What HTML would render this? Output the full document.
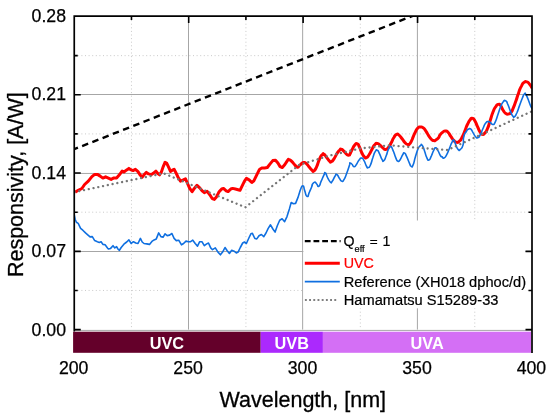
<!DOCTYPE html>
<html><head><meta charset="utf-8"><title>Responsivity</title>
<style>
html,body{margin:0;padding:0;background:#fff;}
body{width:550px;height:416px;overflow:hidden;}
svg{display:block;font-family:"Liberation Sans",sans-serif;}
</style></head><body>
<svg width="550" height="416" viewBox="0 0 550 416">
<rect width="550" height="416" fill="#fff"/>
<g stroke="#a6a6a6" stroke-width="1.0" fill="none"><line x1="188.50" y1="16.5" x2="188.50" y2="329.6"/><line x1="302.65" y1="16.5" x2="302.65" y2="329.6"/><line x1="417.40" y1="16.5" x2="417.40" y2="329.6"/><line x1="74.2" y1="251.50" x2="532.0" y2="251.50"/><line x1="74.2" y1="173.45" x2="532.0" y2="173.45"/><line x1="74.2" y1="94.50" x2="532.0" y2="94.50"/><line x1="74.2" y1="330.40" x2="532.0" y2="330.40"/></g>
<g stroke="#c4c4c4" stroke-width="0.9" stroke-dasharray="1 2.6" fill="none"><line x1="131.47" y1="16.5" x2="131.47" y2="329.6"/><line x1="245.91" y1="16.5" x2="245.91" y2="329.6"/><line x1="360.34" y1="16.5" x2="360.34" y2="329.6"/><line x1="474.78" y1="16.5" x2="474.78" y2="329.6"/><line x1="74.2" y1="290.46" x2="532.0" y2="290.46"/><line x1="74.2" y1="212.19" x2="532.0" y2="212.19"/><line x1="74.2" y1="133.91" x2="532.0" y2="133.91"/><line x1="74.2" y1="55.64" x2="532.0" y2="55.64"/></g>
<clipPath id="c"><rect x="74.2" y="16.5" width="457.8" height="313.1"/></clipPath>
<g clip-path="url(#c)" fill="none" stroke-linejoin="round" stroke-linecap="butt">
<path d="M74.2,149.2 L440.4,4.9" stroke="#000" stroke-width="2.4" stroke-dasharray="6.5 4.5" stroke-dashoffset="2.5"/>
<path d="M75.1,192.2 L78.2,190.3 L81.9,188.5 L84.6,184.5 L88.3,181.2 L91.9,176.6 L94.7,174.4 L97.4,174.4 L100.2,176.1 L102.9,178.1 L105.6,176.8 L108.4,178.1 L111.1,179.4 L113.9,177.9 L116.6,177.9 L119.4,174.8 L122.1,171.1 L123.9,172.0 L126.7,169.9 L128.9,168.4 L131.2,169.9 L133.1,170.6 L135.4,169.3 L138.0,171.7 L140.4,175.3 L142.2,177.2 L144.0,174.8 L146.4,172.4 L148.6,173.9 L151.4,174.6 L153.2,173.3 L155.9,171.1 L157.8,173.5 L159.6,174.8 L161.4,172.0 L163.2,166.6 L165.1,162.4 L165.0,162.3 L166.8,163.4 L168.7,167.4 L170.5,171.4 L172.3,170.2 L174.1,169.3 L176.0,172.9 L178.2,177.5 L180.5,181.1 L183.3,179.9 L185.5,178.8 L187.3,183.0 L189.7,188.4 L192.1,191.7 L194.3,188.4 L197.0,185.3 L199.7,187.9 L202.5,191.2 L204.3,192.7 L207.0,191.2 L209.8,194.8 L212.2,198.5 L214.4,199.4 L216.6,196.7 L218.9,192.1 L221.7,189.0 L223.5,188.4 L226.2,190.8 L228.1,191.6 L230.8,189.0 L232.6,188.4 L235.4,189.0 L238.1,189.7 L240.0,190.3 L241.8,186.6 L244.5,181.1 L246.4,178.4 L249.1,179.9 L251.8,182.4 L253.7,181.1 L256.4,175.6 L259.1,170.2 L260.0,169.0 L262.2,167.9 L264.6,167.9 L267.3,167.5 L270.1,163.9 L272.8,160.6 L275.5,160.2 L277.9,163.0 L280.1,166.6 L282.3,167.5 L284.7,164.8 L287.4,160.6 C288.9,158.9 287.7,159.3 289.3,159.7 C290.8,160.0 290.2,160.0 292.0,161.7 C293.8,163.4 292.9,163.0 294.7,164.8 C296.6,166.6 296.0,166.9 297.5,167.2 C299.0,167.5 297.9,166.9 299.3,165.7 C300.7,164.5 300.2,164.6 301.7,163.5 C303.2,162.4 302.2,162.3 303.9,162.4 C305.5,162.5 304.8,162.3 306.6,163.9 C308.4,165.5 307.5,165.0 309.4,167.2 C311.2,169.3 310.6,169.1 312.1,170.3 C313.6,171.5 312.4,172.0 313.9,170.8 C315.5,169.6 314.8,170.5 316.7,166.6 C318.5,162.8 317.6,163.3 319.4,159.3 C321.2,155.3 320.6,156.4 322.2,154.7 C323.7,153.1 322.5,153.5 324.0,154.4 C325.5,155.3 324.9,155.2 326.7,157.5 C328.6,159.7 327.9,159.7 329.5,161.1 C331.0,162.5 329.8,162.5 331.3,161.7 C332.8,160.9 332.2,161.4 334.0,158.8 C335.9,156.1 335.0,156.7 336.8,153.8 C338.6,151.0 338.0,151.7 339.5,150.2 C341.0,148.6 339.8,148.8 341.4,149.3 C342.9,149.7 342.3,149.7 344.1,151.4 C345.9,153.2 345.2,153.2 346.8,154.4 C348.5,155.6 348.0,155.2 349.0,155.1 C350.1,155.0 349.1,155.5 350.0,153.9 C350.9,152.3 350.3,153.1 351.8,150.3 C353.4,147.4 352.7,147.5 354.6,145.3 C356.4,143.2 355.7,143.3 357.3,143.9 C359.0,144.5 358.0,144.1 359.5,147.2 C361.0,150.2 360.3,149.8 361.9,153.0 C363.5,156.2 362.7,155.1 364.3,156.7 C365.8,158.2 364.8,158.3 366.5,157.6 C368.1,156.9 367.4,157.2 369.2,154.5 C371.0,151.7 370.1,152.6 371.9,149.4 C373.8,146.1 372.9,146.7 374.7,144.8 C376.5,142.8 375.6,143.3 377.4,143.5 C379.3,143.7 378.3,143.9 380.2,145.3 C382.0,146.8 381.1,146.6 382.9,147.9 C384.7,149.2 383.8,149.5 385.6,149.4 C387.5,149.2 386.6,149.7 388.4,147.5 C390.2,145.4 389.3,146.3 391.1,143.0 C393.0,139.6 392.0,140.3 393.9,137.5 C395.7,134.6 394.9,135.2 396.6,134.4 C398.3,133.6 397.2,133.6 399.0,135.1 C400.8,136.6 400.2,136.3 402.1,138.8 C404.1,141.2 403.0,140.5 404.8,142.4 C406.7,144.3 405.9,144.1 407.6,144.4 C409.3,144.8 408.4,145.2 410.0,143.5 C411.5,141.8 410.5,142.8 412.2,139.3 C413.8,135.8 413.1,136.6 414.9,132.9 C416.7,129.3 415.8,130.3 417.6,128.3 C419.5,126.4 418.6,127.2 420.4,127.1 C422.2,126.9 421.3,126.4 423.1,127.8 C425.0,129.1 424.0,128.5 425.9,131.1 C427.7,133.7 426.8,132.9 428.6,135.6 C430.4,138.4 429.6,137.7 431.4,139.3 C433.1,141.0 432.2,140.4 433.7,140.6 C435.3,140.8 434.3,140.9 435.9,139.9 C437.6,138.8 437.3,139.1 438.7,137.5 C440.0,135.8 438.6,136.7 440.0,134.9 C441.4,133.1 440.9,133.5 442.7,132.2 C444.6,130.8 443.7,130.8 445.5,130.9 C447.3,131.0 446.4,130.6 448.2,132.5 C450.1,134.5 449.1,134.1 451.0,136.7 C452.8,139.3 451.9,138.6 453.7,140.4 C455.5,142.2 454.6,141.9 456.5,142.2 C458.3,142.5 457.4,142.8 459.2,141.3 C461.0,139.8 460.1,141.0 461.9,137.6 C463.8,134.3 462.9,135.6 464.7,131.2 C466.5,126.9 465.6,128.3 467.4,124.5 C469.3,120.6 468.5,121.7 470.2,119.7 C471.9,117.7 470.9,118.0 472.5,118.4 C474.2,118.9 473.5,118.4 475.1,121.2 C476.7,123.9 475.8,123.0 477.5,126.7 C479.2,130.3 478.6,129.6 480.2,132.2 C481.9,134.7 480.9,134.0 482.4,134.4 C483.9,134.7 483.1,135.0 484.8,133.1 C486.5,131.1 485.7,132.8 487.5,128.5 C489.4,124.2 488.4,125.8 490.3,120.3 C492.1,114.8 491.2,116.6 493.0,112.0 C494.8,107.5 493.9,109.1 495.8,106.6 C497.6,104.0 496.9,104.7 498.5,104.4 C500.1,104.1 499.2,103.7 500.7,105.6 C502.2,107.6 501.4,107.6 503.1,110.2 C504.8,112.8 504.0,112.3 505.8,113.5 C507.6,114.7 506.8,114.2 508.6,113.9 C510.3,113.5 509.4,114.2 510.9,112.4 C512.5,110.6 511.5,112.2 513.1,108.4 C514.8,104.6 514.0,106.3 515.9,101.1 C517.7,95.9 516.8,97.8 518.6,92.9 C520.4,87.9 519.5,89.6 521.4,86.1 C523.2,82.6 522.3,83.8 524.1,82.4 C525.9,81.0 525.1,81.5 526.8,81.9 C528.5,82.3 527.7,82.1 529.2,83.7 C530.7,85.4 530.4,85.3 531.4,86.8 C532.4,88.3 532.0,87.8 532.3,88.3" stroke="#ff0000" stroke-width="3.0"/>
<path d="M74.0,213.7 L75.1,219.2 L76.4,222.3 L78.2,223.4 L80.6,228.3 L82.8,230.2 L85.5,232.9 L88.3,235.3 L90.1,236.9 L92.3,236.6 L94.7,240.6 L97.4,241.7 L99.3,242.4 L101.1,241.7 L102.9,244.4 L105.1,244.8 L107.5,247.9 L108.4,249.0 L110.6,248.4 L113.0,245.7 L114.8,247.9 L116.6,246.6 L117.9,249.0 L119.4,250.3 L121.2,247.5 L123.9,244.2 L126.7,242.0 L128.9,239.9 L131.2,243.5 L133.4,241.7 L135.8,243.0 L138.0,243.5 L140.4,238.4 L142.2,242.0 L144.0,243.5 L146.8,243.9 L149.5,244.4 L152.3,241.1 L154.1,239.9 L156.3,238.9 L158.7,232.9 L160.9,236.6 L163.2,237.1 L165.0,233.8 L167.2,235.6 L169.6,235.1 L171.9,233.5 L174.1,238.4 L176.3,240.6 L178.7,240.2 L181.5,244.8 L183.6,243.5 L186.0,241.1 L188.4,241.7 L190.6,241.7 L192.8,240.2 L195.2,243.5 L197.5,246.1 L199.7,241.7 L201.9,241.7 L204.3,245.7 L206.7,243.9 L208.5,243.0 L210.7,247.9 L212.5,249.7 L215.3,247.9 L218.0,252.1 L220.4,254.8 L222.6,252.1 L225.0,247.5 L227.2,250.8 L229.4,253.4 L231.7,250.3 L234.1,251.2 L236.3,253.0 L238.1,252.1 L240.3,247.5 L242.7,243.0 L244.5,242.0 L246.4,243.5 L249.1,237.5 L250.9,233.8 L252.4,233.3 L254.6,238.0 L255.0,238.5 L256.8,238.9 L259.0,235.8 L261.4,234.5 L263.8,236.7 L266.0,233.0 L268.2,228.4 L270.5,224.8 L272.9,229.0 L275.1,232.1 L277.3,225.7 L279.7,220.2 L282.1,218.8 L284.6,221.7 L287.0,216.6 L289.4,208.9 L291.2,202.5 L293.4,203.8 L295.6,203.4 L298.0,197.4 L300.3,190.1 C302.0,186.2 301.4,185.7 302.9,185.9 C304.4,186.0 303.3,187.1 304.7,190.6 C306.1,194.1 305.5,196.0 307.1,196.5 C308.7,196.9 307.8,195.4 309.5,191.9 C311.1,188.3 311.2,188.2 312.0,185.9 C312.9,183.5 311.3,186.1 312.1,184.9 C312.9,183.7 313.0,182.5 314.5,182.2 C316.0,181.9 315.2,182.6 316.7,184.0 C318.1,185.3 317.3,187.1 318.9,186.2 C320.4,185.3 319.5,185.0 321.2,181.2 C322.9,177.5 322.6,177.6 324.0,174.8 C325.4,172.1 324.2,172.1 325.4,173.0 C326.7,173.9 326.0,174.5 327.6,177.6 C329.3,180.6 328.9,180.9 330.4,182.2 C331.9,183.4 330.7,183.2 332.2,181.2 C333.7,179.3 333.4,178.6 335.0,176.3 C336.5,174.1 335.3,173.7 336.8,174.5 C338.3,175.2 337.8,176.2 339.5,178.5 C341.2,180.8 340.4,180.9 341.9,181.2 C343.4,181.5 342.4,182.2 344.1,179.4 C345.7,176.7 345.0,177.9 346.8,173.0 C348.7,168.1 348.5,168.1 349.6,164.8 C350.6,161.5 349.3,163.3 350.0,163.1 C350.7,162.8 350.5,162.8 351.8,164.0 C353.2,165.2 352.5,166.6 354.0,166.7 C355.5,166.8 354.7,166.6 356.4,164.4 C358.1,162.1 357.3,162.0 359.1,160.0 C361.0,157.9 360.2,157.7 361.9,158.1 C363.6,158.6 362.7,158.6 364.3,161.2 C365.8,163.9 365.1,164.0 366.5,166.2 C367.8,168.3 366.9,168.1 368.3,167.6 C369.6,167.2 369.0,168.3 370.5,164.9 C372.0,161.5 371.3,162.0 372.9,157.6 C374.4,153.1 373.7,154.0 375.2,151.6 C376.8,149.1 376.0,149.5 377.4,150.3 C378.9,151.1 378.1,150.9 379.6,153.9 C381.1,157.0 380.6,157.2 382.0,159.4 C383.4,161.7 382.4,161.9 383.8,160.7 C385.2,159.5 384.7,159.5 386.2,155.8 C387.7,152.0 386.9,152.4 388.4,149.4 C389.9,146.3 389.1,146.3 390.6,146.6 C392.1,146.9 391.3,146.6 393.0,150.3 C394.7,153.9 394.1,153.9 395.7,157.6 C397.3,161.2 396.4,160.6 397.9,161.2 C399.4,161.9 398.7,161.5 400.3,159.4 C401.9,157.3 401.2,157.0 402.7,154.8 C404.1,152.7 403.1,152.4 404.5,153.0 C405.8,153.6 405.0,153.3 406.7,156.7 C408.3,160.0 407.9,159.9 409.4,163.1 C410.9,166.2 410.0,165.6 411.2,166.2 C412.5,166.8 411.7,168.1 413.1,164.9 C414.5,161.7 413.8,162.0 415.4,156.7 C417.1,151.4 416.4,152.7 418.0,149.0 C419.7,145.3 419.0,146.9 420.4,145.7 C421.8,144.5 420.8,143.5 422.2,145.3 C423.6,147.2 423.1,147.1 424.6,151.2 C426.1,155.3 425.3,154.7 426.8,157.6 C428.2,160.5 427.5,160.6 429.0,160.0 C430.5,159.4 429.8,159.0 431.4,155.8 C432.9,152.5 432.3,152.9 433.7,150.3 C435.1,147.7 434.2,147.9 435.6,147.9 C436.9,147.9 436.1,147.7 437.8,150.3 C439.4,152.9 439.1,153.6 440.5,155.8 C441.9,157.9 440.9,156.0 442.0,156.7 C443.2,157.5 442.4,158.6 443.9,158.0 C445.4,157.4 444.8,158.1 446.6,154.9 C448.4,151.7 447.5,152.8 449.4,148.5 C451.2,144.2 450.6,144.8 452.1,142.1 C453.6,139.4 452.7,139.4 453.9,140.3 C455.1,141.2 454.4,141.8 455.8,144.8 C457.2,147.9 456.6,147.9 458.1,149.4 C459.7,150.9 458.7,150.9 460.3,149.4 C462.0,147.9 461.9,149.1 463.1,144.8 C464.2,140.6 462.6,141.3 463.8,136.7 C464.9,132.2 464.8,133.9 466.5,131.2 C468.2,128.6 467.4,129.5 468.9,128.9 C470.4,128.3 469.6,128.0 471.1,129.4 C472.5,130.8 471.7,130.6 473.3,133.1 C474.8,135.5 474.1,135.2 475.6,136.7 C477.2,138.3 476.5,138.3 478.0,137.6 C479.5,137.0 478.6,137.9 480.2,134.9 C481.9,131.9 481.1,132.5 483.0,128.5 C484.8,124.5 483.9,125.3 485.7,123.0 C487.5,120.7 486.7,121.6 488.4,121.6 C490.2,121.6 489.3,122.0 490.8,123.0 C492.3,124.0 491.6,124.8 493.0,124.5 C494.5,124.2 493.5,125.6 495.2,122.1 C496.9,118.6 496.3,119.1 498.1,113.9 C500.0,108.7 499.0,110.5 500.7,106.6 C502.3,102.6 501.5,103.9 503.1,102.0 C504.7,100.0 503.9,100.1 505.4,100.7 C507.0,101.3 506.0,100.3 507.6,103.8 C509.3,107.3 508.7,107.1 510.4,111.1 C512.1,115.2 511.4,114.2 512.8,116.1 C514.2,117.9 513.2,117.7 514.6,116.6 C515.9,115.6 515.1,116.6 516.8,113.0 C518.4,109.3 517.7,110.5 519.5,105.6 C521.4,100.8 520.6,102.3 522.3,98.3 C523.9,94.4 523.2,95.0 524.5,93.8 C525.7,92.5 524.7,92.9 525.9,94.7 C527.1,96.5 526.6,95.6 528.1,99.3 C529.6,102.9 529.1,102.5 530.5,105.6 C531.9,108.8 531.7,107.7 532.3,108.8" stroke="#0f6fe0" stroke-width="1.6"/>
<path d="M74.0,192.2 L163.5,173.3 L245.3,207.3 L299.3,164.8 L330.0,155.5 L360.0,148.5 L390.0,145.3 L417.6,147.8 L447.5,150.0 L532.3,111.1" stroke="#767676" stroke-width="2.35" stroke-linecap="round" stroke-dasharray="0.01 4.85" stroke-dashoffset="-0.5"/>
</g>
<rect x="303.4" y="220.5" width="222.1" height="87.8" fill="#fff"/>
<line x1="304.8" y1="241.1" x2="340.6" y2="241.1" stroke="#000" stroke-width="2.4" stroke-dasharray="5.8 2.9"/>
<line x1="304.8" y1="263.3" x2="339.8" y2="263.3" stroke="#ff0000" stroke-width="3.1"/>
<line x1="304.8" y1="281.6" x2="339.8" y2="281.6" stroke="#0f6fe0" stroke-width="1.6"/>
<line x1="304.9" y1="299.9" x2="337" y2="299.9" stroke="#7f7f7f" stroke-width="2" stroke-dasharray="1.9 2.3"/>
<g font-size="14.65px" fill="#000" stroke="#000" stroke-width="0.2">
<text x="343.4" y="246.1" font-size="14.2px">Q</text><text x="354.6" y="251.5" font-size="9.2px">eff</text><text x="369.7" y="246.3" font-size="13.6px">=</text><text x="382.4" y="246.1" font-size="14.2px">1</text>
<text x="343.7" y="268.2" fill="#ff0000" stroke="#ff0000" font-size="14.3px">UVC</text>
<text x="343.8" y="286.7">Reference (XH018 dphoc/d)</text>
<text x="343.8" y="304.5">Hamamatsu S15289-33</text>
</g>
<rect x="73.1" y="331.7" width="187.6" height="21.1" fill="#64002a"/>
<rect x="260.7" y="331.7" width="62.2" height="21.1" fill="#ab29fd"/>
<rect x="322.9" y="331.7" width="208.3" height="21.1" fill="#d46ff5"/>
<g font-size="16.3px" font-weight="bold" fill="#fff" text-anchor="middle"><text x="166.9" y="348.7">UVC</text><text x="291.8" y="348.7">UVB</text><text x="427.1" y="348.7">UVA</text></g>
<g stroke="#000" stroke-width="1.7" fill="none" stroke-linecap="butt">
<path d="M74.25,331.5 L74.25,16.20 L532.00,16.20 L532.00,352.9"/>
<path d="M188.69,16.5 v6.5 M303.12,16.5 v6.5 M417.56,16.5 v6.5 M131.47,16.5 v3.5 M245.91,16.5 v3.5 M360.34,16.5 v3.5 M474.78,16.5 v3.5 M74.25,329.60 h6.5 M532.00,329.60 h-6.5 M74.25,251.33 h6.5 M532.00,251.33 h-6.5 M74.25,173.05 h6.5 M532.00,173.05 h-6.5 M74.25,94.78 h6.5 M532.00,94.78 h-6.5 M74.25,290.46 h3.5 M532.00,290.46 h-3.5 M74.25,212.19 h3.5 M532.00,212.19 h-3.5 M74.25,133.91 h3.5 M532.00,133.91 h-3.5 M74.25,55.64 h3.5 M532.00,55.64 h-3.5" stroke-width="1.6"/>
</g>
<g font-size="17.7px" fill="#000" stroke="#000" stroke-width="0.25" text-anchor="end"><text x="66.0" y="21.5">0.28</text><text x="66.0" y="100.1">0.21</text><text x="66.0" y="178.6">0.14</text><text x="66.0" y="257.2">0.07</text><text x="66.0" y="335.8">0.00</text></g>
<g font-size="17.7px" fill="#000" stroke="#000" stroke-width="0.25" text-anchor="middle"><text x="73.7" y="373.8">200</text><text x="188.1" y="373.8">250</text><text x="302.5" y="373.8">300</text><text x="417.0" y="373.8">350</text><text x="531.4" y="373.8">400</text></g>
<text x="302.8" y="406.8" font-size="21.5px" text-anchor="middle" fill="#000" stroke="#000" stroke-width="0.3">Wavelength, [nm]</text>
<text transform="translate(23.0,184.7) rotate(-90)" font-size="21.5px" text-anchor="middle" fill="#000" stroke="#000" stroke-width="0.3">Responsivity, [A/W]</text>
</svg></body></html>
